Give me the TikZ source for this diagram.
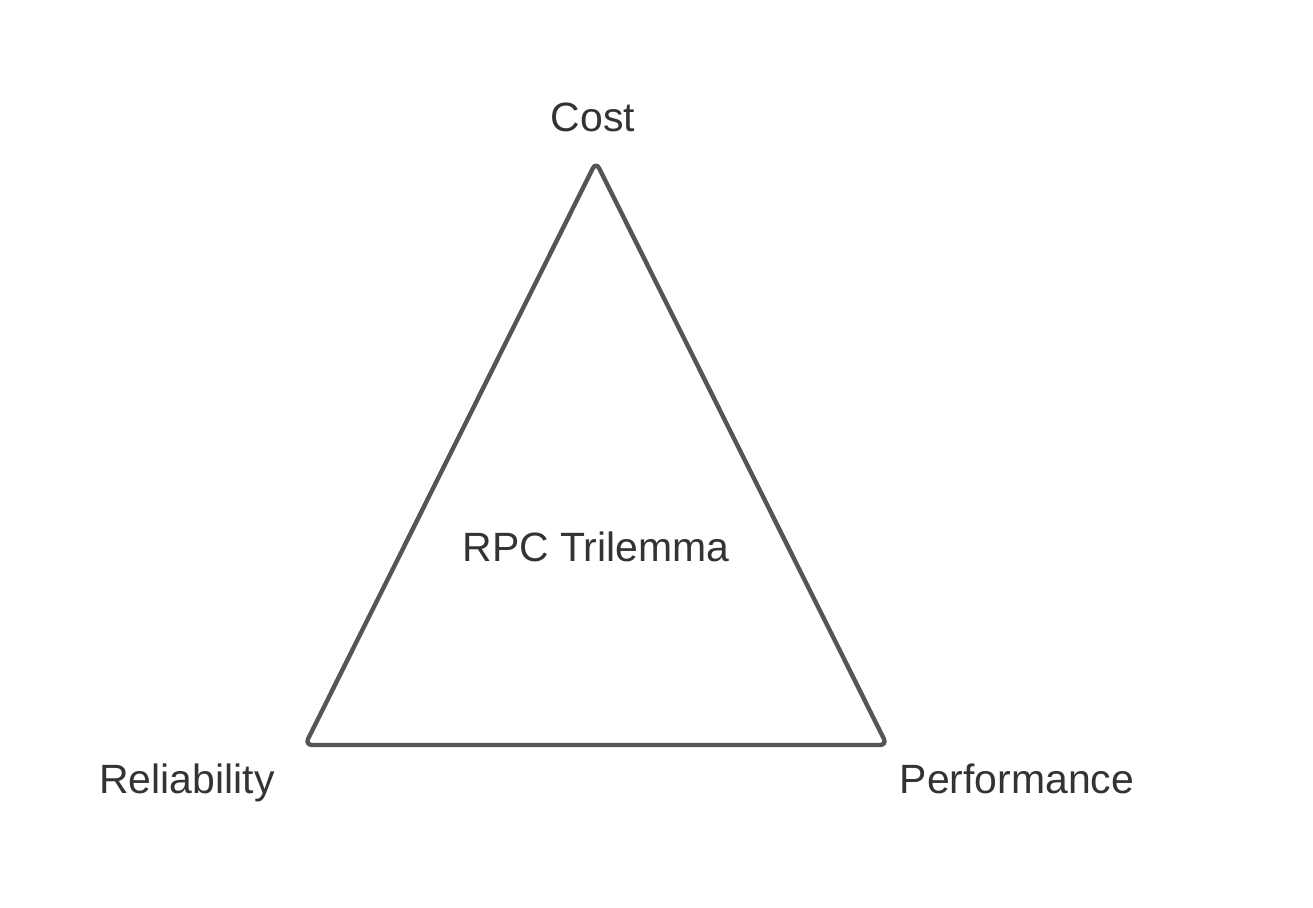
\documentclass[tikz,border=0pt]{standalone}
\usepackage{fontspec}
\setmainfont{Liberation Sans}
\usepackage{xcolor}
\definecolor{ColLine}{RGB}{85,85,85}
\definecolor{ColText}{RGB}{51,51,51}
\tikzstyle{Label}=[text=ColText,inner sep=0pt,anchor=base,font=\fontsize{23.3pt}{28pt}\selectfont]
\tikzstyle{EdgeTri}=[ColLine,line width=2.5pt,rounded corners=4pt,line join=round]
\begin{document}
\begin{tikzpicture}[x=0.02cm,y=-0.02cm]
        \useasboundingbox (0,0) rectangle (1313,908);
        \coordinate (top) at (596,162);
        \coordinate (left) at (305,745);
        \coordinate (right) at (887,745);
        \draw[EdgeTri](top)--(left)--(right)--cycle;
        \node[Label](cost)at(593,132){Cost};
        \node[Label](rel)at(187,794){Reliability};
        \node[Label](perf)at(1017,794){Performance};
        \node[Label](tri)at(596,562){RPC Trilemma};
    \end{tikzpicture}
\end{document}
